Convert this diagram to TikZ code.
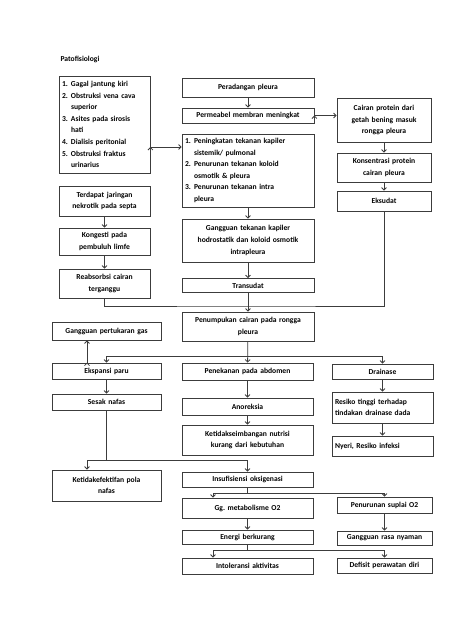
\documentclass[tikz,border=0pt]{standalone}
\usepackage{fontspec}
\setmainfont{Carlito}
\usepackage{tikz}
\usetikzlibrary{arrows.meta}

\definecolor{garis}{RGB}{60,60,60}
\newcommand{\kecil}{\fontsize{7.6}{11.6}\selectfont\bfseries}
\newcommand{\nomor}[1]{\makebox[9pt][l]{#1.}}
\newcommand{\lanjut}{\hspace*{9pt}}

\begin{document}
\begin{tikzpicture}[x=1pt,y=-1pt,
    kotak/.style={shape=rectangle,draw=garis,line width=0.8pt,inner xsep=3pt,inner ysep=1pt,font=\kecil,align=center},
    kiri/.style={kotak,align=left},
    panah/.style={draw=garis,line width=0.8pt,-{Straight Barb[length=2.5pt,width=5pt]}},
    polos/.style={draw=garis,line width=0.8pt}]
	\useasboundingbox (0,0) rectangle (474,632);

	\node[anchor=west,font=\kecil] (judul) at (57,59) {Patofisiologi};

	% kolom kiri
	\node[kiri,text width=85pt,minimum height=97pt] (penyebab) at (104.5,124.5) {\nomor{1}Gagal jantung kiri\\\nomor{2}Obstruksi vena cava\\\lanjut superior\\\nomor{3}Asites pada sirosis\\\lanjut hati\\\nomor{4}Dialisis peritonial\\\nomor{5}Obstruksi fraktus\\\lanjut urinarius};
	\node[kotak,text width=85pt,minimum height=30pt] (nekrotik) at (104.5,201) {Terdapat jaringan\\nekrotik pada septa};
	\node[kotak,text width=85pt,minimum height=27pt] (kongesti) at (104.5,241.5) {Kongesti pada\\pembuluh limfe};
	\node[kotak,text width=85pt,minimum height=29pt] (reabsorbsi) at (104.5,283.5) {Reabsorbsi cairan\\terganggu};

	% kolom tengah
	\node[kotak,text width=126pt,minimum height=19pt] (radang) at (248,87.5) {Peradangan pleura};
	\node[kotak,text width=126pt,minimum height=15pt] (permeabel) at (248,115.5) {Permeabel membran meningkat};
	\node[kiri,text width=126pt,minimum height=73pt] (tekanan) at (248,170.5) {\nomor{1}Peningkatan tekanan kapiler\\\lanjut sistemik/ pulmonal\\\nomor{2}Penurunan tekanan koloid\\\lanjut osmotik \& pleura\\\nomor{3}Penurunan tekanan intra\\\lanjut pleura};
	\node[kotak,text width=126pt,minimum height=43pt] (hidrostatik) at (248,240.5) {Gangguan tekanan kapiler\\hodrostatik dan koloid osmotik\\intrapleura};
	\node[kotak,text width=126pt,minimum height=14pt] (transudat) at (248,285.5) {Transudat};
	\node[kotak,text width=126pt,minimum height=29pt] (penumpukan) at (248,326.5) {Penumpukan cairan pada rongga\\pleura};

	% kolom kanan
	\node[kotak,text width=88pt,minimum height=44pt] (cairan) at (384,120) {Cairan protein dari\\getah bening masuk\\rongga pleura};
	\node[kotak,text width=88pt,minimum height=29pt] (konsentrasi) at (384,167.5) {Konsentrasi protein\\cairan pleura};
	\node[kotak,text width=88pt,minimum height=20pt] (eksudat) at (384,201) {Eksudat};

	% bagian bawah
	\node[kotak,text width=103pt,minimum height=18pt] (gas) at (106.5,331) {Gangguan pertukaran gas};
	\node[kotak,text width=103pt,minimum height=16pt] (ekspansi) at (106.5,371) {Ekspansi paru};
	\node[kotak,text width=103pt,minimum height=16pt] (sesak) at (106.5,402) {Sesak nafas};
	\node[kotak,text width=103pt,minimum height=31pt] (pola) at (106.5,485.5) {Ketidakefektifan pola\\nafas};

	\node[kotak,text width=125pt,minimum height=17pt] (abdomen) at (247.5,371.5) {Penekanan pada abdomen};
	\node[kotak,text width=125pt,minimum height=17pt] (anoreksia) at (247.5,406.5) {Anoreksia};
	\node[kotak,text width=125pt,minimum height=30pt] (nutrisi) at (247.5,440) {Ketidakseimbangan nutrisi\\kurang dari kebutuhan};
	\node[kotak,text width=125pt,minimum height=15pt] (insuf) at (247.5,479.5) {Insufisiensi oksigenasi};
	\node[kotak,text width=125pt,minimum height=20pt] (metabolisme) at (247.5,508) {Gg.\ metabolisme O2};
	\node[kotak,text width=125pt,minimum height=14pt] (energi) at (247.5,537) {Energi berkurang};
	\node[kotak,text width=125pt,minimum height=16pt] (intoleransi) at (247.5,566) {Intoleransi aktivitas};

	\node[kotak,text width=95pt,minimum height=15pt] (drainase) at (382.5,371.5) {Drainase};
	\node[kiri,text width=95pt,minimum height=31pt] (resiko) at (382.5,407.5) {Resiko tinggi terhadap\\tindakan drainase dada};
	\node[kiri,text width=95pt,minimum height=20pt] (nyeri) at (382.5,446) {Nyeri, Resiko infeksi};
	\node[kotak,text width=89pt,minimum height=16pt] (suplai) at (384.5,505) {Penurunan suplai O2};
	\node[kotak,text width=89pt,minimum height=14pt] (nyaman) at (384.5,538) {Gangguan rasa nyaman};
	\node[kotak,text width=89pt,minimum height=15pt] (defisit) at (384.5,565.5) {Defisit perawatan diri};

	\coordinate (j1) at (248,306);
	\coordinate (j2) at (248,356);
	\coordinate (j3) at (87,460);
	\coordinate (j4) at (213,493);
	\coordinate (j5) at (213,550);

	\path[panah] (radang) edge (permeabel);
	\path[panah] (permeabel.east) edge (permeabel.east -| cairan.west);
	\path[panah] (penyebab.east |- 0,147) edge (tekanan.west |- 0,147);
	\path[panah] (tekanan) edge (hidrostatik);
	\path[panah] (hidrostatik) edge (transudat);
	\path[panah] (cairan) edge (konsentrasi);
	\path[panah] (konsentrasi) edge (eksudat);
	\path[panah] (nekrotik) edge (kongesti);
	\path[panah] (kongesti) edge (reabsorbsi);

	\draw[polos] (reabsorbsi.south) |- (j1) -| (eksudat.south);
	\path[panah] (transudat) edge (penumpukan);

	\path[panah] (penumpukan) edge (abdomen);
	\draw[panah] (j2) -| (ekspansi);
	\draw[panah] (j2) -| (drainase);
	\path[panah] ([xshift=-19.5pt]ekspansi.north) edge ([xshift=-19.5pt]gas.south);
	\path[panah] (ekspansi) edge (sesak);
	\draw[panah] (sesak.south) |- (j3) -- (j3 |- pola.north);
	\draw[panah] (j3) -| (insuf);

	\path[panah] (abdomen) edge (anoreksia);
	\path[panah] (anoreksia) edge (nutrisi);
	\path[panah] (drainase) edge (resiko);
	\path[panah] (resiko) edge (nyeri);

	\draw[polos] (insuf) -- (insuf.south |- j4);
	\draw[panah] (j4) -- (j4 |- metabolisme.north);
	\draw[panah] (j4) -| (suplai);
	\path[panah] (metabolisme) edge (energi);
	\path[panah] (suplai) edge (nyaman);
	\draw[polos] (energi) -- (energi.south |- j5);
	\draw[panah] (j5) -- (j5 |- intoleransi.north);
	\draw[panah] (j5) -| (defisit);
\end{tikzpicture}
\end{document}
